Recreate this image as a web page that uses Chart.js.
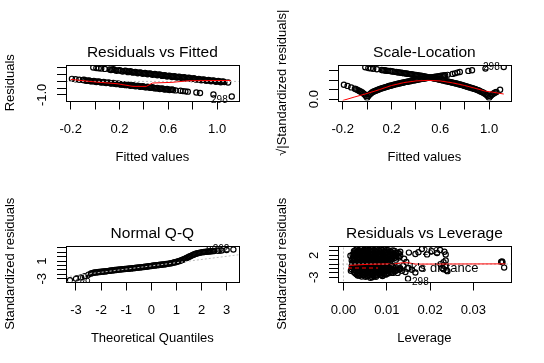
<!DOCTYPE html>
<html>
<head>
<meta charset="utf-8">
<title>lm diagnostics</title>
<script src="https://cdn.jsdelivr.net/npm/chart.js@4.4.1/dist/chart.umd.min.js"></script>
<style>
  html, body { margin: 0; padding: 0; background: #fff; }
  #board { position: relative; width: 544px; height: 363px; }
  #board canvas { position: absolute; }
</style>
</head>
<body>
<div id="board">
  <canvas id="rvf" width="272" height="181" style="left:0;top:0"></canvas>
  <canvas id="sl"  width="272" height="181" style="left:272px;top:0"></canvas>
  <canvas id="qq"  width="272" height="181" style="left:0;top:181px"></canvas>
  <canvas id="rvl" width="272" height="181" style="left:272px;top:181px"></canvas>
</div>
<script>
// ==== DATA ====

// Residuals vs Fitted: [fitted, residual]
const rvfLow = [[-0.19,0.19],[-0.16,0.16],[-0.13,0.12],[-0.10,0.10],[-0.08,0.07],[-0.06,0.06],[-0.04,0.03],[-0.02,0.02],
  [0.00,-0.01],[0.02,-0.03],[0.04,-0.04],[0.06,-0.07],[0.08,-0.08],[0.10,-0.11],[0.12,-0.12],[0.14,-0.15],[0.16,-0.16],
  [0.18,-0.19],[0.20,-0.20],[0.22,-0.23],[0.24,-0.24],[0.26,-0.27],[0.28,-0.28],[0.30,-0.31],[0.32,-0.32],[0.34,-0.35],
  [0.36,-0.36],[0.38,-0.39],[0.40,-0.40],[0.42,-0.43],[0.44,-0.44],[0.46,-0.47],[0.48,-0.48],[0.50,-0.51],[0.52,-0.52],
  [0.54,-0.55],[0.56,-0.56],[0.58,-0.59],[0.60,-0.60],[0.62,-0.63],[0.64,-0.64],[0.66,-0.67],[0.70,-0.70],[0.72,-0.72],
  [0.74,-0.74],[0.76,-0.76],[0.83,-0.83],[0.86,-0.86],[0.97,-0.97],[1.12,-1.12]];
const rvfLowFill = [[-0.09,0.12],[-0.07,0.04],[-0.05,0.08],[-0.03,0.00],[-0.01,0.04],[0.01,-0.04],[0.03,0.00],[0.05,-0.08],
  [0.07,-0.04],[0.09,-0.12],[0.11,-0.08],[0.13,-0.16],[0.15,-0.12],[0.17,-0.20],[0.19,-0.16],[0.21,-0.24],[0.23,-0.20],
  [0.25,-0.28],[0.27,-0.24],[0.29,-0.32],[0.31,-0.28],[0.33,-0.36],[0.35,-0.32],[0.37,-0.40],[0.39,-0.36],[0.41,-0.44],
  [0.43,-0.40],[0.45,-0.48],[0.47,-0.44],[0.49,-0.52],[0.51,-0.48],[0.53,-0.56],[0.55,-0.52],[0.57,-0.60],[0.59,-0.56],
  [0.61,-0.64],[0.63,-0.60]];
const rvfHigh = [[-0.015,1.03],[0.01,0.99],[0.03,0.98],[0.05,0.96],[0.08,0.93],[0.12,0.89],[0.14,0.87],[0.16,0.85],
  [0.19,0.82],[0.21,0.80],[0.24,0.77],[0.26,0.75],[0.28,0.73],[0.30,0.71],[0.32,0.69],[0.34,0.67],[0.36,0.65],[0.38,0.63],
  [0.40,0.61],[0.42,0.59],[0.44,0.57],[0.46,0.55],[0.48,0.53],[0.50,0.51],[0.52,0.49],[0.54,0.47],[0.56,0.45],[0.58,0.43],
  [0.60,0.41],[0.62,0.39],[0.64,0.37],[0.66,0.35],[0.68,0.33],[0.70,0.31],[0.72,0.29],[0.74,0.27],[0.76,0.25],[0.78,0.23],
  [0.80,0.21],[0.82,0.19],[0.84,0.17],[0.86,0.15],[0.88,0.13],[0.90,0.11],[0.92,0.09],[0.94,0.07],[0.96,0.05],[0.98,0.03],
  [1.00,0.01],[1.02,-0.01],[1.04,-0.03],[1.06,-0.05],[1.09,-0.08]];
const rvfHighFill = [[0.13,0.84],[0.15,0.90],[0.175,0.79],[0.20,0.84],[0.225,0.74],[0.25,0.79],[0.27,0.69],[0.29,0.75],
  [0.31,0.65],[0.33,0.71],[0.35,0.61],[0.37,0.67],[0.39,0.57],[0.41,0.63],[0.43,0.53],[0.45,0.59],[0.47,0.49],[0.49,0.55],
  [0.51,0.45],[0.53,0.51],[0.55,0.41],[0.57,0.47],[0.59,0.37],[0.61,0.43],[0.63,0.33],[0.65,0.39],[0.67,0.29],[0.69,0.35],
  [0.71,0.25],[0.73,0.31],[0.75,0.21],[0.77,0.27],[0.79,0.17],[0.81,0.23],[0.83,0.13],[0.85,0.19],[0.87,0.09],[0.89,0.15],
  [0.91,0.05],[0.93,0.11],[0.95,0.01],[0.97,0.07],[0.99,-0.03],[1.01,0.03],[1.03,-0.07],[1.05,-0.01]];
const rvfSmooth = [[-0.2,0.15],[0.01,-0.05],[0.18,-0.17],[0.31,-0.37],[0.42,-0.37],[0.47,-0.12],[0.63,-0.07],[0.77,0.05],[1.11,0.07]];

// Scale-Location: [fitted, sqrt(|std resid|)]
const slLow = [[-0.19,0.76],[-0.16,0.70],[-0.13,0.62],[-0.10,0.55],[-0.08,0.49],[-0.06,0.42],[-0.04,0.35],[-0.02,0.25],
  [0.00,0.08],[0.02,0.25],[0.04,0.35],[0.06,0.42],[0.08,0.47],[0.10,0.52],[0.12,0.57],[0.14,0.61],[0.16,0.65],[0.18,0.69],
  [0.20,0.72],[0.22,0.76],[0.24,0.79],[0.26,0.82],[0.28,0.85],[0.30,0.88],[0.32,0.91],[0.34,0.93],[0.36,0.96],[0.38,0.99],
  [0.40,1.01],[0.42,1.03],[0.44,1.06],[0.46,1.08],[0.48,1.10],[0.50,1.12],[0.52,1.14],[0.54,1.16],[0.56,1.18],[0.58,1.20],
  [0.60,1.22],[0.62,1.24],[0.64,1.26],[0.66,1.28],[0.70,1.33],[0.72,1.36],[0.74,1.40],[0.76,1.43],[0.83,1.49],[0.86,1.52],
  [0.97,1.61],[1.12,1.69]];
const slLowFill = [[-0.09,0.52],[-0.07,0.46],[-0.05,0.39],[-0.03,0.30],[-0.01,0.17],[0.01,0.17],[0.03,0.30],[0.05,0.39],
  [0.07,0.45],[0.09,0.50],[0.11,0.55],[0.13,0.59],[0.15,0.63],[0.17,0.67],[0.19,0.71],[0.21,0.74],[0.23,0.78],[0.25,0.81],
  [0.27,0.84],[0.29,0.87],[0.31,0.90],[0.33,0.92],[0.35,0.95],[0.37,0.98],[0.39,1.00],[0.41,1.02],[0.43,1.05],[0.45,1.07],
  [0.47,1.09],[0.49,1.11],[0.51,1.13],[0.53,1.15],[0.55,1.17],[0.57,1.19],[0.59,1.21],[0.61,1.23],[0.63,1.25]];
const slHigh = [[-0.015,1.68],[0.01,1.64],[0.03,1.62],[0.05,1.60],[0.08,1.58],[0.12,1.54],[0.14,1.52],[0.16,1.50],
  [0.19,1.48],[0.21,1.46],[0.24,1.43],[0.26,1.41],[0.28,1.39],[0.30,1.37],[0.32,1.35],[0.34,1.33],[0.36,1.31],[0.38,1.29],
  [0.40,1.27],[0.42,1.25],[0.44,1.23],[0.46,1.21],[0.48,1.18],[0.50,1.15],[0.52,1.13],[0.54,1.10],[0.56,1.08],[0.58,1.05],
  [0.60,1.02],[0.62,0.99],[0.64,0.96],[0.66,0.93],[0.68,0.90],[0.70,0.87],[0.72,0.84],[0.74,0.81],[0.76,0.77],[0.78,0.74],
  [0.80,0.70],[0.82,0.66],[0.84,0.62],[0.86,0.58],[0.88,0.54],[0.90,0.49],[0.92,0.44],[0.94,0.38],[0.96,0.31],[0.98,0.22],
  [1.00,0.08],[1.02,0.22],[1.04,0.31],[1.06,0.38],[1.09,0.50]];
const slHighFill = [[0.13,1.53],[0.15,1.51],[0.175,1.49],[0.20,1.47],[0.225,1.44],[0.25,1.42],[0.27,1.40],[0.29,1.38],
  [0.31,1.36],[0.33,1.34],[0.35,1.32],[0.37,1.30],[0.39,1.28],[0.41,1.26],[0.43,1.24],[0.45,1.22],[0.47,1.20],[0.49,1.17],
  [0.51,1.14],[0.53,1.12],[0.55,1.09],[0.57,1.07],[0.59,1.04],[0.61,1.01],[0.63,0.98],[0.65,0.95],[0.67,0.92],[0.69,0.89],
  [0.71,0.86],[0.73,0.83],[0.75,0.79],[0.77,0.76],[0.79,0.72],[0.81,0.68],[0.83,0.64],[0.85,0.60],[0.87,0.56],[0.89,0.52],
  [0.91,0.47],[0.93,0.41],[0.95,0.35],[0.97,0.27],[0.99,0.16],[1.01,0.16],[1.03,0.27],[1.05,0.35]];
const slSmooth = [[-0.2,-0.07],[-0.1,0.12],[0.0,0.30],[0.1,0.50],[0.2,0.72],[0.3,0.87],[0.4,0.96],[0.5,0.99],[0.6,0.96],
  [0.7,0.86],[0.8,0.72],[0.9,0.55],[0.97,0.42],[1.03,0.37],[1.12,0.27]];

// Normal Q-Q: theoretical quantiles and sorted standardized residuals
const qqTheo = [-3.24,-3.0,-2.8,-2.65,-2.5,-2.4,-2.3,-2.2,-2.1,-2.0,-1.9,-1.8,-1.7,-1.6,-1.5,-1.4,-1.3,-1.2,-1.1,-1.0,
  -0.9,-0.8,-0.7,-0.6,-0.5,-0.4,-0.3,-0.2,-0.1,0.0,0.1,0.2,0.3,0.4,0.5,0.6,0.7,0.8,0.9,1.0,
  1.1,1.2,1.3,1.4,1.5,1.6,1.7,1.8,1.9,2.0,2.1,2.2,2.3,2.4,2.5,2.65,2.8,3.0,3.27];
const qqSample = [-3.31,-3.0,-2.7,-2.4,-2.05,-1.8,-1.62,-1.55,-1.48,-1.42,-1.36,-1.30,-1.22,-1.14,-1.07,-1.0,-0.93,-0.87,-0.81,-0.76,
  -0.72,-0.66,-0.6,-0.52,-0.46,-0.4,-0.33,-0.26,-0.18,-0.1,-0.02,0.05,0.12,0.18,0.24,0.32,0.42,0.53,0.66,0.8,
  0.98,1.18,1.42,1.68,1.95,2.22,2.48,2.68,2.84,2.95,3.04,3.1,3.16,3.21,3.26,3.32,3.38,3.47,3.57];
const qqTheoFill = [-2.35,-2.25,-2.15,-2.05,-1.95,-1.85,-1.75,-1.65,-1.55,-1.45,-1.35,-1.25,-1.15,-1.05,-0.95,-0.85,-0.75,
  -0.65,-0.55,-0.45,-0.35,-0.25,-0.15,-0.05,0.05,0.15,0.25,0.35,0.45,0.55,0.65,0.75,0.85,0.95,1.05,1.15,1.25,1.35,1.45,
  1.55,1.65,1.75,1.85,1.95,2.05,2.15,2.25,2.35,2.45];
const qqSampleFill = [-1.71,-1.58,-1.51,-1.45,-1.39,-1.33,-1.26,-1.18,-1.10,-1.03,-0.96,-0.90,-0.84,-0.78,-0.74,-0.69,-0.63,
  -0.56,-0.49,-0.43,-0.36,-0.29,-0.22,-0.14,-0.06,0.01,0.08,0.15,0.21,0.28,0.37,0.47,0.59,0.73,0.89,1.08,1.30,1.55,1.81,
  2.08,2.35,2.58,2.76,2.90,3.00,3.07,3.13,3.18,3.23];
const qqRef = [[-3.4,-2.54],[3.48,2.41]];

// Residuals vs Leverage: main cloud, leverage columns with their std. residuals
const levCols = [0.0019,0.0024,0.0030,0.0036,0.0042,0.0048,0.0054,0.0060,0.0066,0.0072,0.0078,0.0084,0.0090,0.0097,0.0104,0.0111,0.0118,0.0125,0.0131];
const levColRes = [
  [0.8,-0.4,-1.2],
  [2.9,2.2,1.4,0.6,-0.3,-1.0,-1.8],
  [3.3,2.7,2.0,1.3,0.5,-0.2,-0.9,-1.6,-2.3],
  [3.1,2.4,1.7,1.0,0.2,-0.5,-1.3,-2.0,-2.6],
  [3.4,2.8,2.1,1.4,0.7,-0.1,-0.8,-1.5,-2.2,-2.8],
  [3.2,2.5,1.8,1.1,0.4,-0.4,-1.1,-1.8,-2.5],
  [3.5,2.9,2.2,1.5,0.8,0.0,-0.7,-1.4,-2.1,-2.7],
  [3.1,2.4,1.7,1.0,0.3,-0.5,-1.2,-1.9,-2.6],
  [3.3,2.7,2.0,1.2,0.5,-0.2,-0.9,-1.6,-2.3,-3.0],
  [3.0,2.3,1.6,0.9,0.1,-0.6,-1.3,-2.0,-2.7],
  [3.4,2.6,1.9,1.2,0.4,-0.3,-1.0,-1.7,-2.4],
  [3.0,2.2,1.5,0.7,0.0,-0.8,-1.5,-2.2],
  [3.2,2.5,1.8,1.0,0.2,-0.5,-1.3,-2.0,-2.7],
  [2.8,2.1,1.3,0.6,-0.2,-1.0,-1.7,-2.4],
  [3.1,2.4,1.6,0.8,-0.6,-1.4,-2.1],
  [2.7,1.9,1.1,-0.3,-1.1,-1.9],
  [3.0,2.2,1.4,-0.9,-1.6],
  [2.5,1.7,-0.4,-1.3,-2.0],
  [2.8,1.9,-1.0]
];
const levCols2 = [0.0021,0.0027,0.0033,0.0039,0.0045,0.0051,0.0057,0.0063,0.0069,0.0075,0.0081,0.0087,0.0093,0.0100,0.0107,0.0114,0.0121,0.0128];
const levColRes2 = [
  [2.1,1.2,0.2,-0.8],
  [3.1,2.5,1.8,1.0,0.2,-0.6,-1.4,-2.1],
  [3.0,2.3,1.6,0.9,0.1,-0.6,-1.3,-2.0,-2.6],
  [3.4,2.8,2.1,1.4,0.6,-0.1,-0.9,-1.7,-2.4],
  [3.0,2.4,1.7,1.0,0.3,-0.5,-1.2,-1.9,-2.5],
  [3.5,2.9,2.2,1.5,0.7,0.0,-0.7,-1.5,-2.2,-2.9],
  [3.2,2.5,1.8,1.1,0.4,-0.4,-1.1,-1.8,-2.5],
  [3.4,2.8,2.1,1.4,0.6,-0.1,-0.8,-1.5,-2.2],
  [3.0,2.3,1.6,0.8,0.1,-0.6,-1.3,-2.0,-2.7],
  [3.3,2.7,2.0,1.3,0.5,-0.2,-0.9,-1.7,-2.4],
  [3.1,2.3,1.6,0.9,0.2,-0.6,-1.3,-2.0],
  [3.3,2.6,1.9,1.1,0.4,-0.4,-1.1,-1.8,-2.5],
  [2.9,2.2,1.5,0.7,-0.1,-0.9,-1.6,-2.3],
  [3.2,2.5,1.7,1.0,0.2,-0.8,-1.5,-2.2],
  [2.8,2.0,1.2,0.3,-1.0,-1.8],
  [3.1,2.3,1.5,-0.5,-1.3,-2.0],
  [2.6,1.8,1.0,-0.7,-1.5],
  [2.4,1.5,-1.2]
];
// the sparser points around the cloud: [leverage, std resid]
const levSparse = [[0.0016,1.9],[0.0017,-1.5],[0.0062,-3.1],[0.0075,-2.9],[0.0140,1.2],[0.0145,0.5],[0.0138,-0.4],
  [0.0151,2.6],[0.0166,2.3],[0.0173,2.7],[0.0181,3.4],[0.0193,2.2],[0.0204,2.9],[0.0216,2.5],[0.0223,3.2],[0.0233,2.8],[0.0236,2.2],
  [0.0135,-1.5],[0.0143,-1.8],[0.0150,-0.9],[0.0158,-1.3],[0.0166,-1.9],[0.0181,-1.0],[0.0149,-3.3],
  [0.0224,0.0],[0.0231,0.4],[0.0235,-0.5],[0.0231,-1.2],[0.0238,-1.4],[0.0228,-0.9],[0.0240,-1.6],[0.0236,0.8],
  [0.0364,0.5],[0.0366,0.6],[0.0367,0.4],[0.0371,-0.8]];
const levSmooth = [[0.0013,-0.3],[0.0030,-0.2],[0.0058,-0.05],[0.0119,0.07],[0.0135,0.3],[0.0150,0.3],[0.0166,0.0],[0.0374,0.05]];

// tick values and the labels R managed to print
const fitTicks  = [-0.2,0,0.2,0.4,0.6,0.8,1.0];
const fitLabels = ['-0.2','','0.2','','0.6','','1.0'];
const resTicks  = [-1.0,-0.5,0,0.5,1.0];
const resLabels = ['-1.0','','','',''];
const slTicks   = [0,0.5,1.0,1.5];
const slLabels  = ['0.0','','',''];
const qqXTicks  = [-3,-2,-1,0,1,2,3];
const qqXLabels = ['-3','-2','-1','0','1','2','3'];
const stdTicks  = [-3,-2,-1,0,1,2,3,4];
const stdLabels = ['-3','','','','1','','',''];
const levTicks  = [0,0.01,0.02,0.03];
const levLabels = ['0.00','0.01','0.02','0.03'];
const rvlLabels = ['-3','','','','','2','',''];

// ==== HELPERS ====
const FONT = '"Liberation Sans", Arial, Helvetica, sans-serif';
Chart.defaults.font.family = FONT;
Chart.defaults.color = '#000';

const toPts = pairs => pairs.map(([x, y]) => ({x, y}));

function circles(data) {
  return { data, showLine: false, pointStyle: 'circle', pointRadius: 2.6, pointBorderWidth: 1.2,
    pointBorderColor: '#000', pointBackgroundColor: 'rgba(0,0,0,0)', order: 3 };
}
function curve(data, color, dash, order) {
  return { data, showLine: true, borderColor: color, borderWidth: 1, borderDash: dash || [],
    pointRadius: 0, fill: false, tension: 0, order: order };
}

function xAxis(min, max, ticks, labels, title) {
  return {
    type: 'linear', position: 'bottom', min, max,
    afterBuildTicks: s => { s.ticks = ticks.map(v => ({value: v})); },
    afterFit: s => { s.height = 80.5; },
    grid: { drawOnChartArea: false, drawTicks: true, tickLength: 9, color: '#000' },
    border: { display: false },
    ticks: { font: { size: 13 }, padding: 12, autoSkip: false, maxRotation: 0,
      callback: (v, i) => labels[i] },
    title: { display: true, text: title, font: { size: 13 }, padding: { top: 0, bottom: 16.2 } }
  };
}
function yAxis(min, max, ticks, labels, title, pad) {
  return {
    type: 'linear', position: 'left', min, max,
    afterBuildTicks: s => { s.ticks = ticks.map(v => ({value: v})); },
    afterFit: s => { s.width = 66; },
    grid: { drawOnChartArea: false, drawTicks: true, tickLength: 9, color: '#000' },
    border: { display: false },
    ticks: { font: { size: 13 }, padding: pad, autoSkip: false, minRotation: 90, maxRotation: 90,
      crossAlign: 'center', callback: (v, i) => labels[i] },
    title: { display: true, text: title, font: { size: 13 }, padding: { top: 3, bottom: 0 } }
  };
}

// frame, point ids and the Cook's distance key
const rFrame = {
  id: 'rFrame',
  afterDatasetsDraw(chart, args, opts) {
    const {ctx, chartArea: a, scales} = chart;
    ctx.save();
    ctx.strokeStyle = '#000';
    ctx.lineWidth = 1;
    ctx.strokeRect(Math.round(a.left) + 0.5, Math.round(a.top) + 0.5,
      Math.round(a.right - a.left), Math.round(a.bottom - a.top));
    ctx.fillStyle = '#000';
    ctx.textBaseline = 'middle';
    ctx.font = '10px ' + FONT;
    (opts.ids || []).forEach(l => {
      const px = scales.x.getPixelForValue(l.at[0]);
      const py = scales.y.getPixelForValue(l.at[1]) + (l.dy || 0);
      ctx.textAlign = l.side === 'left' ? 'right' : 'left';
      ctx.fillText(l.text, px + (l.side === 'left' ? -4 : 4), py);
    });
    if (opts.cook) {
      const y = a.bottom - 13.5;
      ctx.strokeStyle = 'red';
      ctx.setLineDash([4, 3]);
      ctx.beginPath();
      ctx.moveTo(a.left + 10, y);
      ctx.lineTo(a.left + 40, y);
      ctx.stroke();
      ctx.setLineDash([]);
      ctx.font = '13px ' + FONT;
      ctx.textAlign = 'left';
      ctx.fillText(opts.cook, a.left + 49, y);
    }
    ctx.restore();
  }
};
Chart.register(rFrame);

function panel(id, title, datasets, x, y, extras) {
  return new Chart(document.getElementById(id), {
    type: 'scatter',
    data: { datasets },
    options: {
      responsive: false, animation: false, events: [],
      layout: { padding: { left: 0, right: 33.3, top: 0, bottom: 0 } },
      plugins: {
        legend: { display: false },
        tooltip: { enabled: false },
        title: { display: true, text: title, fullSize: false, color: '#000',
          font: { size: 15.5, weight: 'normal' }, padding: { top: 43.7, bottom: 2.7 } },
        rFrame: extras || {}
      },
      scales: { x, y }
    }
  });
}

// ==== PANELS ====
const FX = [-0.2385, 1.177];

panel('rvf', 'Residuals vs Fitted', [
    curve(toPts(rvfSmooth), 'red', [], 0),
    curve([{x: FX[0], y: 0}, {x: FX[1], y: 0}], '#bebebe', [2, 2], 1),
    circles(toPts(rvfLow.concat(rvfLowFill, rvfHigh, rvfHighFill)))
  ],
  xAxis(FX[0], FX[1], fitTicks, fitLabels, 'Fitted values'),
  yAxis(-1.42, 1.22, resTicks, resLabels, 'Residuals', 3.8),
  { ids: [{ at: rvfLow[rvfLow.length - 1], text: '298', side: 'left', dy: 4 }] });

panel('sl', 'Scale-Location', [
    curve(toPts(slSmooth), 'red', [], 0),
    circles(toPts(slLow.concat(slLowFill, slHigh, slHighFill)))
  ],
  xAxis(FX[0], FX[1], fitTicks, fitLabels, 'Fitted values'),
  yAxis(-0.07, 1.80, slTicks, slLabels, '\u221A|Standardized residuals|', 6),
  { ids: [{ at: slLow[slLow.length - 1], text: '298', side: 'left', dy: 0 }] });

const qqPts = qqTheo.map((t, i) => ({x: t, y: qqSample[i]}))
  .concat(qqTheoFill.map((t, i) => ({x: t, y: qqSampleFill[i]})));
panel('qq', 'Normal Q-Q', [
    curve(toPts(qqRef), '#bebebe', [2, 2], 1),
    circles(qqPts)
  ],
  xAxis(-3.398, 3.482, qqXTicks, qqXLabels, 'Theoretical Quantiles'),
  yAxis(-3.6, 4.38, stdTicks, stdLabels, 'Standardized residuals', 9.2),
  { ids: [
    { at: [qqTheo[0], qqSample[0]], text: '298', side: 'right', dy: 0 },
    { at: [qqTheo[qqTheo.length - 1], qqSample[qqSample.length - 1]], text: '262', side: 'left', dy: 0 },
    { at: [qqTheo[qqTheo.length - 2], qqSample[qqSample.length - 2]], text: '200', side: 'left', dy: 1 }
  ] });

const LX = [-0.00127, 0.03861];
const levCloud = levCols.flatMap((h, i) => levColRes[i].map(r => ({x: h, y: r})))
  .concat(levCols2.flatMap((h, i) => levColRes2[i].map(r => ({x: h, y: r}))));
panel('rvl', 'Residuals vs Leverage', [
    curve(toPts(levSmooth), 'red', [], 0),
    curve([{x: LX[0], y: 0}, {x: LX[1], y: 0}], '#bebebe', [2, 2], 1),
    curve([{x: 0, y: -3.95}, {x: 0, y: 4.1}], '#bebebe', [2, 2], 1),
    circles(levCloud.concat(toPts(levSparse)))
  ],
  xAxis(LX[0], LX[1], levTicks, levLabels, 'Leverage'),
  yAxis(-3.95, 4.1, stdTicks, rvlLabels, 'Standardized residuals', 9.2),
  { ids: [
    { at: [0.0173, 2.7], text: '262', side: 'right', dy: 0 },
    { at: [0.0149, -3.3], text: '298', side: 'right', dy: 4 }
  ], cook: "Cook's distance" });
</script>
</body>
</html>
